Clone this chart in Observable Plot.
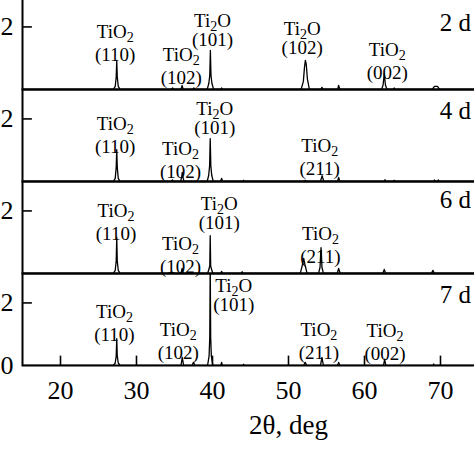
<!DOCTYPE html>
<html>
<head>
<meta charset="utf-8">
<script src="https://cdn.jsdelivr.net/npm/d3@7"></script>
<script src="https://cdn.jsdelivr.net/npm/@observablehq/plot@0.6"></script>
<style>
  html, body { margin: 0; padding: 0; background: #fff; overflow: hidden; width: 474px; height: 474px; }
  #chart { width: 474px; height: 474px; overflow: hidden; }
  #chart svg { display: block; margin-top: -3px; max-width: none !important; width: 564px !important; height: 477px !important; }
</style>
</head>
<body>
<div id="chart"></div>
<script>
// Samples (annealing time) – one panel each
const samples = ["2 d", "4 d", "6 d", "7 d"];
const dayLabelHeight = [2.14, 2.24, 2.36, 2.24];

// XRD patterns: [2θ (deg), intensity (arb.)]
const pattern2d = [
  [15,0],[26.95,0],[27.2,0.1],[27.33,0.4],[27.4,0.93],[27.47,0.4],[27.6,0.1],[27.85,0],
  [34.6,0],[34.75,0.05],[34.9,0],
  [35.85,0],[36.0,0.13],[36.15,0],
  [37.4,0],[37.55,0.05],[37.7,0],
  [39.3,0],[39.52,0.2],[39.64,0.45],[39.72,1.25],[39.8,0.45],[39.92,0.2],[40.15,0],
  [41.1,0],[41.2,0.05],[41.3,0],
  [51.65,0],[51.95,0.25],[52.1,0.7],[52.22,0.93],[52.34,0.8],[52.48,0.35],[52.75,0],
  [54.25,0],[54.4,0.07],[54.55,0],
  [56.45,0],[56.6,0.13],[56.75,0],
  [62.25,0],[62.45,0.15],[62.6,0.51],[62.75,0.15],[62.95,0],
  [63.8,0],[63.9,0.05],[64.0,0],
  [68.9,0],[69.2,0.1],[69.6,0.1],[69.9,0],[85,0]
];
const pattern4d = [
  [15,0],[26.95,0],[27.2,0.1],[27.33,0.45],[27.4,1.02],[27.47,0.45],[27.6,0.1],[27.85,0],
  [34.6,0],[34.72,0.05],[34.85,0],
  [35.8,0],[35.95,0.15],[36.02,0.29],[36.1,0.15],[36.25,0],
  [39.3,0],[39.5,0.2],[39.62,0.5],[39.7,1.37],[39.78,0.5],[39.9,0.2],[40.1,0],
  [41.05,0],[41.2,0.1],[41.35,0],
  [44.0,0],[44.1,0.04],[44.2,0],
  [52.1,0],[52.2,0.04],[52.3,0],
  [54.2,0],[54.35,0.12],[54.42,0.19],[54.5,0.12],[54.65,0],
  [56.45,0],[56.6,0.13],[56.75,0],
  [62.6,0],[62.7,0.06],[62.8,0],
  [63.8,0],[63.9,0.04],[64.0,0],
  [69.1,0],[69.2,0.05],[69.3,0],[69.6,0],[69.7,0.05],[69.8,0],[85,0]
];
const pattern6d = [
  [15,0],[26.95,0],[27.2,0.1],[27.33,0.4],[27.4,1.15],[27.47,0.4],[27.6,0.1],[27.85,0],
  [34.6,0],[34.72,0.04],[34.85,0],
  [35.85,0],[36.0,0.16],[36.15,0],
  [39.35,0],[39.55,0.15],[39.64,0.25],[39.7,1.21],[39.76,0.25],[39.85,0.15],[40.05,0],
  [41.1,0],[41.2,0.07],[41.3,0],
  [43.8,0],[43.9,0.06],[44.0,0],
  [51.55,0],[51.85,0.3],[52.0,0.48],[52.15,0.3],[52.45,0],
  [53.95,0],[54.15,0.2],[54.28,0.83],[54.4,0.2],[54.6,0],
  [56.4,0],[56.6,0.16],[56.8,0],
  [62.4,0],[62.6,0.13],[62.8,0],
  [68.8,0],[69.0,0.1],[69.2,0],[85,0]
];
const pattern7d = [
  [15,0],[26.95,0],[27.2,0.08],[27.33,0.3],[27.4,0.86],[27.47,0.3],[27.6,0.08],[27.85,0],
  [35.85,0],[35.95,0.15],[36.02,0.26],[36.1,0.15],[36.2,0],
  [37.3,0],[37.5,0.1],[37.7,0],
  [39.35,0],[39.55,0.3],[39.64,0.9],[39.7,3.3],[39.76,0.9],[39.85,0.3],[40.05,0],
  [41.1,0],[41.2,0.1],[41.3,0],
  [44.0,0],[44.1,0.04],[44.2,0],
  [52.0,0],[52.2,0.1],[52.4,0],
  [54.2,0],[54.32,0.15],[54.4,0.26],[54.48,0.15],[54.6,0],
  [56.45,0],[56.6,0.1],[56.75,0],
  [62.5,0],[62.65,0.2],[62.8,0],
  [69.0,0],[69.1,0.05],[69.2,0],[85,0]
];
const patterns = [pattern2d, pattern4d, pattern6d, pattern7d];

// Peak annotations: [sample, 2θ, height, text]
const peakLabels = [
  ["2 d", 27.2, 1.55, "TiO₂\n(110)"],
  ["2 d", 35.9, 0.80, "TiO₂\n(102)"],
  ["2 d", 40.0, 1.88, "Ti₂O\n(101)"],
  ["2 d", 51.8, 1.63, "Ti₂O\n(102)"],
  ["2 d", 63.0, 0.97, "TiO₂\n(002)"],
  ["4 d", 27.2, 1.55, "TiO₂\n(110)"],
  ["4 d", 35.8, 0.74, "TiO₂\n(102)"],
  ["4 d", 40.3, 2.03, "Ti₂O\n(101)"],
  ["4 d", 54.1, 0.84, "TiO₂\n(211)"],
  ["6 d", 27.3, 1.71, "TiO₂\n(110)"],
  ["6 d", 35.8, 0.63, "TiO₂\n(102)"],
  ["6 d", 40.9, 1.91, "Ti₂O\n(101)"],
  ["6 d", 54.2, 0.97, "TiO₂\n(211)"],
  ["7 d", 27.1, 1.41, "TiO₂\n(110)"],
  ["7 d", 35.5, 0.82, "TiO₂\n(102)"],
  ["7 d", 42.8, 2.23, "Ti₂O\n(101)"],
  ["7 d", 54.0, 0.84, "TiO₂\n(211)"],
  ["7 d", 62.7, 0.79, "TiO₂\n(002)"]
];

const xTicks = [20, 30, 40, 50, 60, 70];
const yTickValue = 2;
const xTitle = "2θ, deg";

// ---- build tables ----
const rows = [];
samples.forEach((s, i) => patterns[i].forEach(([a, v]) => rows.push({sample: s, angle: a, intensity: v})));
const labelRows = peakLabels.map(([s, a, h, t]) => ({sample: s, angle: a, height: h, text: t}));
const dayRows = samples.map((s, i) => ({sample: s, angle: 69.9, height: dayLabelHeight[i], text: s}));
const yTickRows = samples.map(s => ({sample: s, value: yTickValue, text: String(yTickValue)}));
const yLabelRows = yTickRows.concat([{sample: samples[3], value: 0, text: "0"}]);
const xTickRows = xTicks.map(v => ({sample: samples[3], value: v}));
const bottom = samples[samples.length - 1];

const chart = Plot.plot({
  width: 564,
  height: 477,
  marginLeft: 22,
  marginRight: 10,
  marginTop: 0,
  marginBottom: 109,
  style: {fontFamily: "'Liberation Serif', 'DejaVu Serif', serif", color: "#000", background: "#fff"},
  x: {domain: [15, 85], axis: null},
  y: {domain: [0, 2.94], axis: null},
  fy: {domain: samples, padding: 0, axis: null},
  marks: [
    Plot.line(rows, {x: "angle", y: "intensity", fy: "sample", stroke: "#000", strokeWidth: 1.3, clip: true}),
    Plot.frame({stroke: "#000", strokeWidth: 2}),
    Plot.ruleY(yTickRows, {y: "value", fy: "sample", x1: 15, x2: 16.3, stroke: "#000", strokeWidth: 1.6}),
    Plot.text(yLabelRows, {y: "value", fy: "sample", text: "text", frameAnchor: "left", textAnchor: "end", dx: -9, fontSize: 26}),
    Plot.ruleX(xTickRows, {x: "value", fy: "sample", y1: 0, y2: 0.3, stroke: "#000", strokeWidth: 1.6}),
    Plot.text(xTickRows, {x: "value", fy: "sample", text: d => String(d.value), frameAnchor: "bottom", dy: 33, fontSize: 26}),
    Plot.text([{sample: bottom, text: xTitle}], {fy: "sample", text: "text", frameAnchor: "bottom", dy: 68, fontSize: 27}),
    Plot.text(labelRows, {x: "angle", y: "height", fy: "sample", text: "text", fontSize: 19, lineHeight: 1.0, lineAnchor: "middle"}),
    Plot.text(dayRows, {x: "angle", y: "height", fy: "sample", text: "text", textAnchor: "start", fontSize: 25})
  ]
});

// render ₂ as a real subscript
const NS = "http://www.w3.org/2000/svg";
chart.querySelectorAll("text, tspan").forEach(el => {
  if (el.children.length === 0 && el.textContent.includes("₂")) {
    const parts = el.textContent.split("₂");
    el.textContent = "";
    parts.forEach((p, i) => {
      if (i > 0) {
        const sub = document.createElementNS(NS, "tspan");
        sub.setAttribute("dy", "4");
        sub.setAttribute("font-size", "14");
        sub.textContent = "2";
        el.appendChild(sub);
        if (p.length) {
          const rest = document.createElementNS(NS, "tspan");
          rest.setAttribute("dy", "-4");
          rest.textContent = p;
          el.appendChild(rest);
        }
      } else if (p.length) {
        el.appendChild(document.createTextNode(p));
      }
    });
  }
});

document.getElementById("chart").appendChild(chart);
</script>
</body>
</html>
